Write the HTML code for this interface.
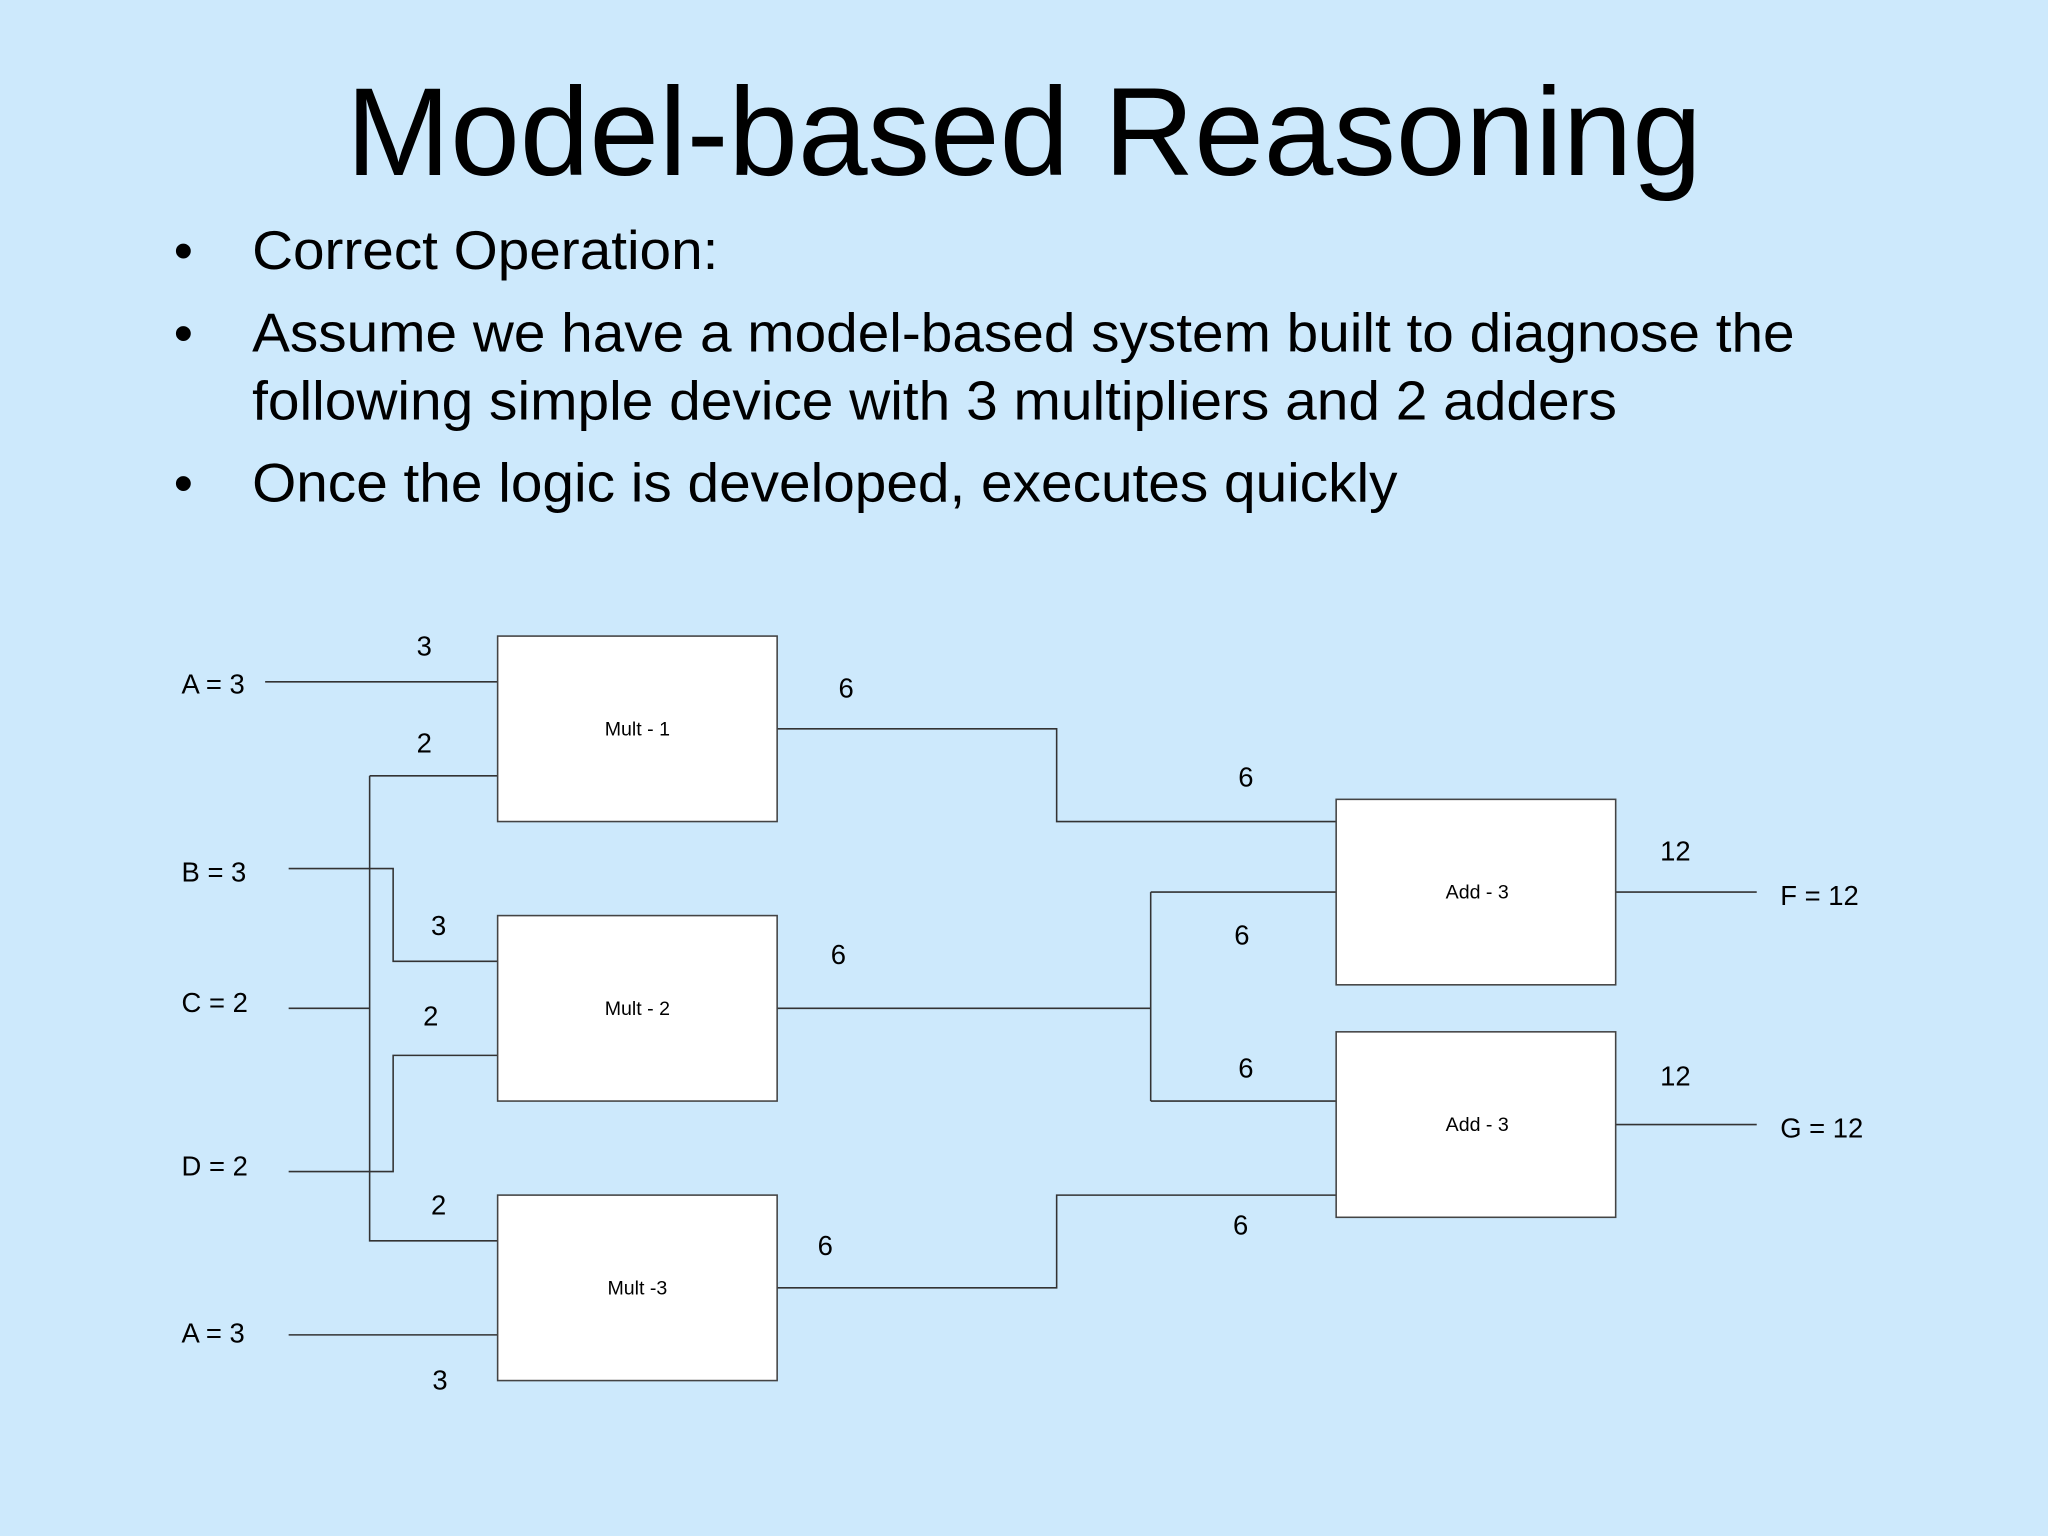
<!DOCTYPE html>
<html><head><meta charset="utf-8"><style>
html,body{margin:0;padding:0;background:#cde9fc;}
svg{display:block}
text{font-family:"Liberation Sans",Arial,sans-serif;fill:#000}
</style></head><body>
<svg width="2048" height="1536" viewBox="0 0 1568 1176" xmlns="http://www.w3.org/2000/svg">
<rect width="1568" height="1176" fill="#cde9fc"/>
<text x="784" y="134" font-size="96" text-anchor="middle" textLength="1038" lengthAdjust="spacingAndGlyphs">Model-based Reasoning</text>
<g font-size="42">
<text x="133" y="206">•</text><text x="193" y="206" textLength="357" lengthAdjust="spacingAndGlyphs">Correct Operation:</text>
<text x="133" y="269">•</text><text x="193" y="269" textLength="1181" lengthAdjust="spacingAndGlyphs">Assume we have a model-based system built to diagnose the</text>
<text x="193" y="321" textLength="1045" lengthAdjust="spacingAndGlyphs">following simple device with 3 multipliers and 2 adders</text>
<text x="133" y="384">•</text><text x="193" y="384" textLength="877" lengthAdjust="spacingAndGlyphs">Once the logic is developed, executes quickly</text>
</g>
<g stroke="#333" stroke-width="1.2" fill="none">
<path d="M203 522H381M283 594H381M283 594V950H381M221 665H301V736H381M221 772H283M221 897H301V808H381M221 1022H381"/>
<path d="M595 558H809V629H1023M595 772H881M881 683V843M881 683H1023M881 843H1023M595 986H809V915H1023M1237 683H1345M1237 861H1345"/>
</g>
<g fill="#fff" stroke="#444" stroke-width="1.2">
<rect x="381" y="487" width="214" height="142"/>
<rect x="381" y="701" width="214" height="142"/>
<rect x="381" y="915" width="214" height="142"/>
<rect x="1023" y="612" width="214" height="142"/>
<rect x="1023" y="790" width="214" height="142"/>
</g>
<g font-size="15" text-anchor="middle">
<text x="488" y="563">Mult  -  1</text>
<text x="488" y="777">Mult  -  2</text>
<text x="488" y="991">Mult  -3</text>
<text x="1131" y="688">Add  -  3</text>
<text x="1131" y="866">Add  -  3</text>
</g>
<g font-size="21">
<text x="139" y="531">A = 3</text>
<text x="139" y="675">B = 3</text>
<text x="139" y="775">C = 2</text>
<text x="139" y="900">D = 2</text>
<text x="139" y="1028">A = 3</text>
<text x="1363" y="693">F = 12</text>
<text x="1363" y="871">G = 12</text>
<text x="319" y="502">3</text>
<text x="319" y="576">2</text>
<text x="330" y="716">3</text>
<text x="324" y="785">2</text>
<text x="330" y="930">2</text>
<text x="331" y="1064">3</text>
<text x="642" y="534">6</text>
<text x="636" y="738">6</text>
<text x="626" y="961">6</text>
<text x="948" y="602">6</text>
<text x="945" y="723">6</text>
<text x="948" y="825">6</text>
<text x="944" y="945">6</text>
<text x="1271" y="659">12</text>
<text x="1271" y="831">12</text>
</g>
</svg>
</body></html>
